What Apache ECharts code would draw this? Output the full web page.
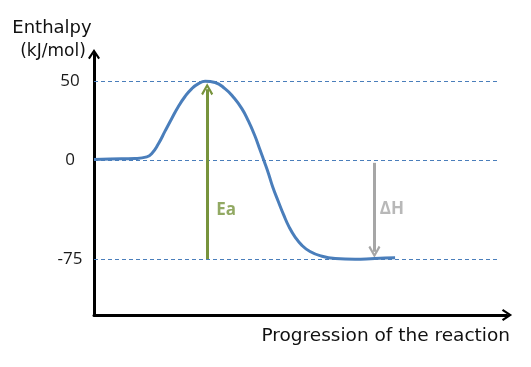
<!DOCTYPE html>
<html>
<head>
<meta charset="utf-8">
<script src="https://cdn.jsdelivr.net/npm/echarts@6/dist/echarts.min.js"></script>
<style>
html,body{margin:0;padding:0;background:#fff;}
#chart{width:531px;height:367px;}
</style>
</head>
<body>
<div id="chart"></div>
<script>
// ---- data ----
const progress = [0, 3.9, 9.9, 12.8, 14.0, 15.6, 17.2, 18.8, 20.4, 22.0, 23.7, 25.3, 26.9, 29.3, 31.7, 33.7, 35.8, 37.4, 38.9, 40.1, 41.2, 42.3, 43.3, 44.6, 45.9, 47.2, 48.7, 50.4, 52.3, 54.7, 58.4, 63.2, 68.0, 72.9];
const enthalpy = [0.4, 0.8, 1.1, 2.1, 4.2, 10.4, 18.4, 26.3, 33.9, 40.2, 45.4, 48.5, 50, 49.2, 45.4, 40.1, 32.7, 24.7, 15.8, 7.3, -0.8, -10.6, -20.5, -31.1, -41.3, -50.4, -58.3, -64.8, -69.3, -72.4, -74.6, -75.2, -74.5, -74.0];
const tickValues = [50, 0, -75];
const tickLabels = ['50', '0', '-75'];
const eaArrow = [[27.4, -75], [27.4, 45]];
const dhArrow = [[67.9, -2], [67.9, -69.5]];
const eaLabel = [29.6, -38];
const dhLabel = [69.2, -37];
const gridEnd = 97.6;

// schematic axis: the negative part of the enthalpy scale is drawn compressed
const NEG_SCALE = 0.8354;
function toAxis(v) { return v < 0 ? v * NEG_SCALE : v; }

const chevron = 'path://M12,0 L24,18 L20.5,20.5 L12,7.5 L3.5,20.5 L0,18 Z';
const textFont = 'DejaVu Sans';

const chart = echarts.init(document.getElementById('chart'));

const curve = progress.map((x, i) => [x, toAxis(enthalpy[i])]);

const gridLines = tickValues.map((v, i) => [
  { coord: [0, toAxis(v)], label: { formatter: tickLabels[i] } },
  { coord: [gridEnd, toAxis(v)] }
]);

chart.setOption({
  animation: false,
  title: [
    { text: 'Enthalpy', left: 47, top: 14, textAlign: 'center',
      textStyle: { fontFamily: textFont, fontSize: 18, fontWeight: 'normal', color: '#111' } },
    { text: '(kJ/mol)', left: 48, top: 38, textAlign: 'center',
      textStyle: { fontFamily: textFont, fontSize: 17, fontWeight: 'normal', color: '#111' } }
  ],
  grid: { left: 94, right: 24, top: 54, bottom: 52 },
  xAxis: {
    type: 'value', min: 0, max: 100,
    name: 'Progression of the reaction',
    nameLocation: 'end', nameGap: 3,
    nameTextStyle: { fontFamily: textFont, fontSize: 18.5, color: '#111', align: 'right', verticalAlign: 'top', padding: [12, 0, 0, 0] },
    axisLine: { onZero: false, symbol: ['none', chevron], symbolSize: [12, 12], lineStyle: { color: '#000', width: 3 } },
    axisTick: { show: false }, axisLabel: { show: false }, splitLine: { show: false }
  },
  yAxis: {
    type: 'value', min: -98.1, max: 67.3,
    axisLine: { show: true, onZero: false, symbol: ['none', chevron], symbolSize: [12, 12], lineStyle: { color: '#000', width: 3 } },
    axisTick: { show: false }, axisLabel: { show: false }, splitLine: { show: false }
  },
  series: [
    {
      type: 'line', data: curve, smooth: 0.5, symbol: 'none', z: 5,
      lineStyle: { color: '#4a7ebb', width: 3 },
      markLine: {
        silent: true, symbol: 'none', animation: false,
        lineStyle: { color: '#4a7ebb', width: 1, type: [4, 3] },
        label: { show: true, position: 'start', distance: 24, align: 'center',
          fontFamily: 'Open Sans', fontSize: 17, color: '#1a1a1a' },
        emphasis: { disabled: true },
        data: gridLines
      }
    },
    {
      type: 'line', data: [], z: 6,
      markLine: {
        silent: true, animation: false,
        symbol: ['none', chevron], symbolSize: 12,
        label: { show: false },
        emphasis: { disabled: true },
        data: [
          [{ coord: [eaArrow[0][0], toAxis(eaArrow[0][1])], lineStyle: { color: '#77933c', width: 3, type: 'solid' }, itemStyle: { color: '#77933c' } },
           { coord: [eaArrow[1][0], toAxis(eaArrow[1][1])] }],
          [{ coord: [dhArrow[0][0], toAxis(dhArrow[0][1])], lineStyle: { color: '#a6a6a6', width: 3, type: 'solid' }, itemStyle: { color: '#a6a6a6' } },
           { coord: [dhArrow[1][0], toAxis(dhArrow[1][1])] }]
        ]
      }
    },
    {
      type: 'scatter', symbolSize: 0, silent: true, z: 7,
      label: { show: true, position: 'right', distance: 0, fontFamily: 'Open Sans', fontWeight: 'bold', fontSize: 17 },
      data: [
        { value: [eaLabel[0], toAxis(eaLabel[1])], label: { formatter: 'Ea', color: '#77933c' } },
        { value: [dhLabel[0], toAxis(dhLabel[1])], label: { formatter: 'ΔH', color: '#a6a6a6' } }
      ]
    }
  ]
});
</script>
</body>
</html>
